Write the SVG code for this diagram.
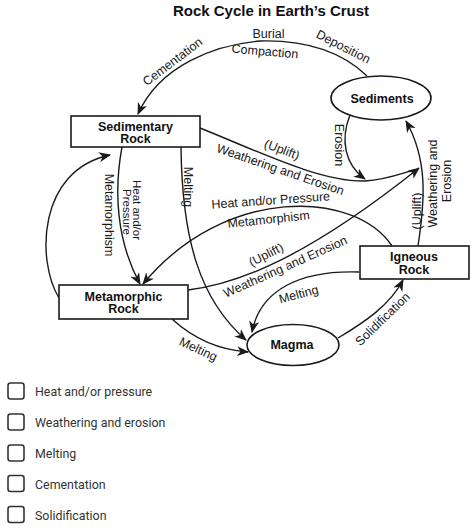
<svg xmlns="http://www.w3.org/2000/svg" width="474" height="528" viewBox="0 0 474 528">
<defs>
<marker id="ah" markerUnits="userSpaceOnUse" viewBox="0 0 12 10" markerWidth="12" markerHeight="10" refX="11" refY="5" orient="auto">
<path d="M0,0 L12,5 L0,10 L3.5,5 z" fill="#1a1a1a"/>
</marker>
<style>
.c{fill:none;stroke:#1a1a1a;stroke-width:1.4}
.a{marker-end:url(#ah)}
.n{fill:#fff;stroke:#1a1a1a;stroke-width:1.6}
.t{font-family:"Liberation Sans",Arial,sans-serif;font-weight:bold;font-size:12.5px;fill:#111;text-anchor:middle}
.l{font-family:"Liberation Sans",Arial,sans-serif;font-size:12.5px;fill:#1a1a1a;text-anchor:middle}
.s{font-size:11.5px}
.cb{fill:none;stroke:#333;stroke-width:1.6}
.ct{font-family:Roboto,"Liberation Sans",sans-serif;font-size:12.4px;fill:#333}
</style>
</defs>
<rect width="474" height="528" fill="#fff"/>
<text x="271" y="16" style="font-family:'Liberation Sans',Arial,sans-serif;font-weight:bold;font-size:15px;fill:#111;text-anchor:middle">Rock Cycle in Earth’s Crust</text>

<g id="connectors">
<path class="c a" d="M367,76 C338,48 300,40 260,41 C215,45 160,65 138,114"/>
<path class="c" d="M200,128 C260,152 320,182 365,181 C385,180 400,174 414,170"/>
<path class="c a" d="M350,115 C340,140 345,165 365,179"/>
<path class="c a" d="M418,246 C425,200 428,160 406,121"/>
<path class="c a" d="M188,290 C240,284 310,255 419,168"/>
<path class="c a" d="M392,246 C355,190 225,185 143,284"/>
<path class="c a" d="M122,147 C114,190 116,240 140,284"/>
<path class="c a" d="M59,298 C36,260 38,170 110,155"/>
<path class="c a" d="M181,147 C182,240 200,300 246,340"/>
<path class="c a" d="M172,319 C195,340 220,350 248,352"/>
<path class="c a" d="M359,272 C300,270 260,290 252,332"/>
<path class="c a" d="M338,338 C365,322 390,305 403,280"/>
</g>

<g id="labels">
<text class="l" x="268.5" y="38">Burial</text>
<text class="l" x="264.6" y="55.5" transform="rotate(5 264.6 55.5)">Compaction</text>
<text class="l" x="341.5" y="50.5" transform="rotate(27 341.5 50.5)">Deposition</text>
<text class="l" x="175" y="65" transform="rotate(-37 175 65)">Cementation</text>
<text class="l" x="280.5" y="153.5" transform="rotate(21 280.5 153.5)">(Uplift)</text>
<text class="l" x="279" y="173.5" transform="rotate(19 279 173.5)">Weathering and Erosion</text>
<text class="l" x="334.5" y="145" transform="rotate(90 334.5 145)">Erosion</text>
<text class="l" x="420.5" y="211" transform="rotate(-90 420.5 211)">(Uplift)</text>
<text class="l" x="436.5" y="183.5" transform="rotate(-90 436.5 183.5)">Weathering and</text>
<text class="l" x="450.5" y="181" transform="rotate(-90 450.5 181)">Erosion</text>
<text class="l" x="104.5" y="215" transform="rotate(90 104.5 215)">Metamorphism</text>
<text class="l s" x="132.5" y="210" transform="rotate(90 132.5 210)">Heat and/or</text>
<text class="l s" x="122.5" y="212" transform="rotate(90 122.5 212)">Pressure</text>
<text class="l" x="183.5" y="187" transform="rotate(90 183.5 187)">Melting</text>
<text class="l" x="271" y="204.5" transform="rotate(-4 271 204.5)">Heat and/or Pressure</text>
<text class="l" x="269" y="223.5" transform="rotate(-6 269 223.5)">Metamorphism</text>
<text class="l" x="268" y="258.5" transform="rotate(-27 268 258.5)">(Uplift)</text>
<text class="l" x="287" y="270.5" transform="rotate(-24 287 270.5)">Weathering and Erosion</text>
<text class="l" x="196.5" y="353" transform="rotate(25 196.5 353)">Melting</text>
<text class="l" x="299.7" y="298.3" transform="rotate(-15 299.7 298.3)">Melting</text>
<text class="l" x="385.5" y="322" transform="rotate(-44 385.5 322)">Solidification</text>
</g>

<g id="sedimentary-rock">
<rect class="n" x="71" y="116" width="129" height="31"/>
<text class="t" x="135.5" y="130.5">Sedimentary</text>
<text class="t" x="135.5" y="143">Rock</text>
</g>
<g id="sediments">
<ellipse class="n" cx="381" cy="98" rx="50" ry="22"/>
<text class="t" x="382" y="102.5">Sediments</text>
</g>
<g id="metamorphic-rock">
<rect class="n" x="59" y="285" width="129" height="34"/>
<text class="t" x="123.5" y="300.5">Metamorphic</text>
<text class="t" x="123.5" y="313">Rock</text>
</g>
<g id="igneous-rock">
<rect class="n" x="360" y="246" width="109" height="33"/>
<text class="t" x="414" y="261">Igneous</text>
<text class="t" x="414" y="273.5">Rock</text>
</g>
<g id="magma">
<ellipse class="n" cx="293" cy="345" rx="46" ry="20.5"/>
<text class="t" x="292" y="349">Magma</text>
</g>

<g id="options">
<rect class="cb" x="8" y="383" width="16" height="16" rx="2.5"/>
<text class="ct" x="35" y="396">Heat and/or pressure</text>
<rect class="cb" x="8" y="414" width="16" height="16" rx="2.5"/>
<text class="ct" x="35" y="427">Weathering and erosion</text>
<rect class="cb" x="8" y="445" width="16" height="16" rx="2.5"/>
<text class="ct" x="35" y="458">Melting</text>
<rect class="cb" x="8" y="475.5" width="16" height="16" rx="2.5"/>
<text class="ct" x="35" y="488.5">Cementation</text>
<rect class="cb" x="8" y="506.5" width="16" height="16" rx="2.5"/>
<text class="ct" x="35" y="519.5">Solidification</text>
</g>
</svg>
